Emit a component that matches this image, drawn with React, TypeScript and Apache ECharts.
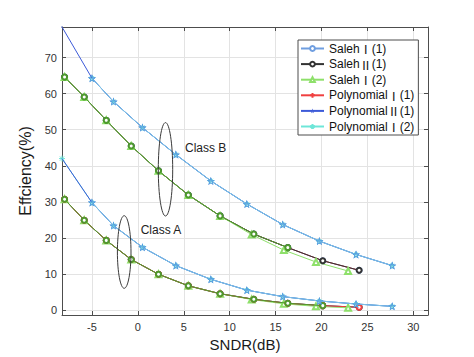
import React, { useEffect, useRef } from "react";
import * as echarts from "echarts";

// SNDR (dB) positions of the operating points
const sndrSaleh = [-7.98, -5.84, -3.44, -0.72, 2.25, 5.5, 8.96, 12.63, 16.33, 20.14, 24.1];
const sndrSaleh2 = [-7.98, -5.84, -3.44, -0.72, 2.25, 5.5, 8.96, 12.4, 15.9, 19.4, 22.9];
const sndrPoly = [-5.0, -2.65, 0.5, 4.14, 7.95, 11.87, 15.78, 19.77, 23.76, 27.7];

// Efficiency (%) – Class B
const effSalehB = [64.6, 59.1, 52.6, 45.5, 38.6, 31.9, 26.1, 21.05, 17.3, 13.66, 11.0];
const effSaleh2B = [64.6, 59.1, 52.6, 45.5, 38.6, 31.9, 26.1, 20.9, 16.6, 13.3, 10.8];
const effPolyB = [64.3, 57.8, 50.6, 43.1, 35.8, 29.4, 23.7, 19.1, 15.4, 12.3];
const polyBStart: [number, number] = [-8.6, 80];

// Efficiency (%) – Class A
const effSalehA = [30.7, 24.9, 19.3, 14.0, 9.9, 6.7, 4.5, 2.95, 1.85, 1.2, 0.75];
const effSaleh2A = [30.7, 24.9, 19.3, 14.0, 9.9, 6.7, 4.5, 2.9, 1.7, 1.0, 0.6];
const effPolyA = [29.8, 23.4, 17.4, 12.3, 8.5, 5.5, 3.7, 2.5, 1.66, 1.0];
const polyAStart: [number, number] = [-8.26, 42];

const legendNames = [
  "Saleh Ⅰ(1)",
  "Saleh Ⅱ(1)",
  "Saleh Ⅰ(2)",
  "Polynomial Ⅰ(1)",
  "Polynomial Ⅱ(1)",
  "Polynomial Ⅰ(2)",
];

const zip = (xs: number[], ys: number[], n?: number) =>
  ys.slice(0, n ?? ys.length).map((y, i) => [xs[i], y]);

// outline pentagram: outer star plus reversed inner star (hole)
const STAR =
  "path://M10,0L12.35,6.76L19.51,6.91L13.8,11.24L15.88,18.09L10,14L4.12,18.09L6.2,11.24L0.49,6.91L7.65,6.76Z" +
  "M10,4L8.59,8.06L4.29,8.15L7.72,10.74L6.47,14.85L10,12.4L13.53,14.85L12.28,10.74L15.71,8.15L11.41,8.06Z";
const PLUS = "path://M5,0L5,10M0,5L10,5";
const ASTER = "path://M5,0L5,10M0,5L10,5M1.5,1.5L8.5,8.5M8.5,1.5L1.5,8.5";

const FONT = "'Liberation Sans', Arial, Helvetica, sans-serif";
const CJK = "'Noto Sans CJK SC', 'Noto Sans CJK JP', sans-serif";

export default function App() {
  const ref = useRef<HTMLDivElement>(null);
  useEffect(() => {
    if (!ref.current) return;
    const chart = echarts.init(ref.current, undefined, { renderer: "svg" });

    const mk = (
      name: string,
      data: any[],
      color: string,
      symbol: string,
      size: number,
      z = 2,
      bw = 1,
      symColor?: string
    ) => ({
      type: "line",
      name,
      data,
      symbol,
      symbolSize: size,
      showSymbol: true,
      clip: true,
      lineStyle: { color, width: 1 },
      itemStyle: { color: symColor ?? color, borderColor: symColor ?? color, borderWidth: bw },
      emphasis: { disabled: true },
      silent: true,
      z,
    });

    const blue = "#6f9ee0";
    const black = "#333333";
    const lgreen = "#8ee06a";
    const red = "#f04040";
    const dblue = "#3c5ad8";
    const cyan = "#6ee6d8";
    const green = "#4e9a2e";
    const skyLine = "#7fc2e8";
    const skyStar = "#55b0e0";

    const series: any[] = [
      mk(legendNames[0], zip(sndrSaleh, effSalehB), blue, "emptyCircle", 5),
      mk(legendNames[0], zip(sndrSaleh, effSalehA), blue, "emptyCircle", 5),
      mk(legendNames[1], zip(sndrSaleh, effSalehB), black, "emptyCircle", 5, 3),
      mk(legendNames[1], zip(sndrSaleh, effSalehA), black, "emptyCircle", 5, 3),
      mk(legendNames[2], zip(sndrSaleh2, effSaleh2B), lgreen, "emptyTriangle", 6, 3),
      mk(legendNames[2], zip(sndrSaleh2, effSaleh2A), lgreen, "emptyTriangle", 6, 3),
      mk(legendNames[3], zip(sndrSaleh, effSalehB), red, PLUS, 6, 2),
      mk(legendNames[3], zip(sndrSaleh, effSalehA), red, "emptyCircle", 5, 3),
      // visible green overlay (not in legend)
      mk("gB", zip(sndrSaleh, effSalehB, 9), green, "emptyCircle", 5, 4),
      mk("gA", zip(sndrSaleh, effSalehA, 10), green, "emptyCircle", 5, 4),
      mk(legendNames[4], [polyBStart, ...zip(sndrPoly, effPolyB)], dblue, STAR, 8, 4, 0),
      mk(
        legendNames[4],
        [{ value: polyAStart, symbol: "none" }, ...zip(sndrPoly, effPolyA)],
        dblue,
        STAR,
        8,
        4,
        0
      ),
      mk(legendNames[5], zip(sndrPoly, effPolyB), cyan, ASTER, 6, 3),
      mk(legendNames[5], [polyAStart, ...zip(sndrPoly, effPolyA)], cyan, ASTER, 6, 3),
      // visible sky-blue overlay (not in legend)
      mk("sB", zip(sndrPoly, effPolyB), skyLine, STAR, 8, 5, 0, skyStar),
      mk("sA", zip(sndrPoly, effPolyA), skyLine, STAR, 8, 5, 0, skyStar),
    ];

    const axisLine = { show: true, onZero: false, lineStyle: { color: "#4d4d4d", width: 1 } };
    const tick = { show: true, inside: true, length: 4, lineStyle: { color: "#4d4d4d" } };

    chart.setOption({
      animation: false,
      textStyle: { fontFamily: FONT },
      grid: { left: 62, top: 27, right: 46, bottom: 42, containLabel: false },
      xAxis: [
        {
          type: "value",
          min: -8.26,
          max: 31.6,
          splitNumber: 8,
          position: "bottom",
          axisLine,
          axisTick: tick,
          splitLine: { show: true, lineStyle: { color: "#e3e3e3", width: 1 } },
          axisLabel: {
            fontSize: 11,
            color: "#333",
            margin: 6,
            showMinLabel: false,
            showMaxLabel: false,
            fontFamily: FONT,
          },
          name: "SNDR(dB)",
          nameLocation: "middle",
          nameGap: 20,
          nameTextStyle: { fontSize: 15, color: "#1a1a1a", fontFamily: FONT },
        },
        {
          type: "value",
          min: -8.26,
          max: 31.6,
          splitNumber: 8,
          position: "top",
          axisLine,
          axisTick: tick,
          splitLine: { show: false },
          axisLabel: { show: false },
        },
      ],
      yAxis: [
        {
          type: "value",
          min: -1.4,
          max: 78.5,
          splitNumber: 8,
          position: "left",
          axisLine,
          axisTick: tick,
          splitLine: { show: true, lineStyle: { color: "#e3e3e3", width: 1 } },
          axisLabel: {
            fontSize: 11,
            color: "#333",
            margin: 5,
            showMinLabel: false,
            showMaxLabel: false,
            fontFamily: FONT,
          },
          name: "Effciency(%)",
          nameLocation: "middle",
          nameGap: 20,
          nameTextStyle: { fontSize: 16, color: "#1a1a1a", fontFamily: FONT },
        },
        {
          type: "value",
          min: -1.4,
          max: 78.5,
          splitNumber: 8,
          position: "right",
          axisLine,
          axisTick: tick,
          splitLine: { show: false },
          axisLabel: { show: false },
        },
      ],
      legend: {
        data: legendNames,
        orient: "vertical",
        left: 298,
        top: 40,
        padding: [2, 4, 2, 2],
        itemWidth: 23,
        itemHeight: 6,
        itemGap: 2.6,
        backgroundColor: "#ffffff",
        borderColor: "#4d4d4d",
        borderWidth: 1,
        borderRadius: 0,
        selectedMode: false,
        formatter: (name: string) => name.replace(/\s*([ⅠⅡ])/, "{r|$1}"),
        textStyle: {
          fontSize: 12,
          color: "#111",
          fontFamily: FONT,
          lineHeight: 13,
          rich: {
            r: { fontSize: 12, fontFamily: CJK, color: "#111", lineHeight: 13 },
          },
        },
        z: 10,
      },
      graphic: [
        {
          type: "ellipse",
          shape: { cx: 165.5, cy: 169.3, rx: 7.2, ry: 46.7 },
          style: { fill: "none", stroke: "#3a3a3a", lineWidth: 1 },
          z: 20,
        },
        {
          type: "ellipse",
          shape: { cx: 124.2, cy: 252, rx: 6.8, ry: 36.3 },
          style: { fill: "none", stroke: "#3a3a3a", lineWidth: 1 },
          z: 20,
        },
        {
          type: "text",
          x: 205.7,
          y: 148,
          style: {
            text: "Class B",
            fontSize: 12,
            fontFamily: FONT,
            fill: "#222",
            align: "center",
            verticalAlign: "middle",
          },
          z: 20,
        },
        {
          type: "text",
          x: 161,
          y: 230,
          style: {
            text: "Class A",
            fontSize: 12,
            fontFamily: FONT,
            fill: "#222",
            align: "center",
            verticalAlign: "middle",
          },
          z: 20,
        },
      ],
      series,
    });

    return () => chart.dispose();
  }, []);

  return (
    <div
      ref={ref}
      style={{ position: "fixed", left: 0, top: 0, width: 474, height: 357, background: "#fff" }}
    />
  );
}
